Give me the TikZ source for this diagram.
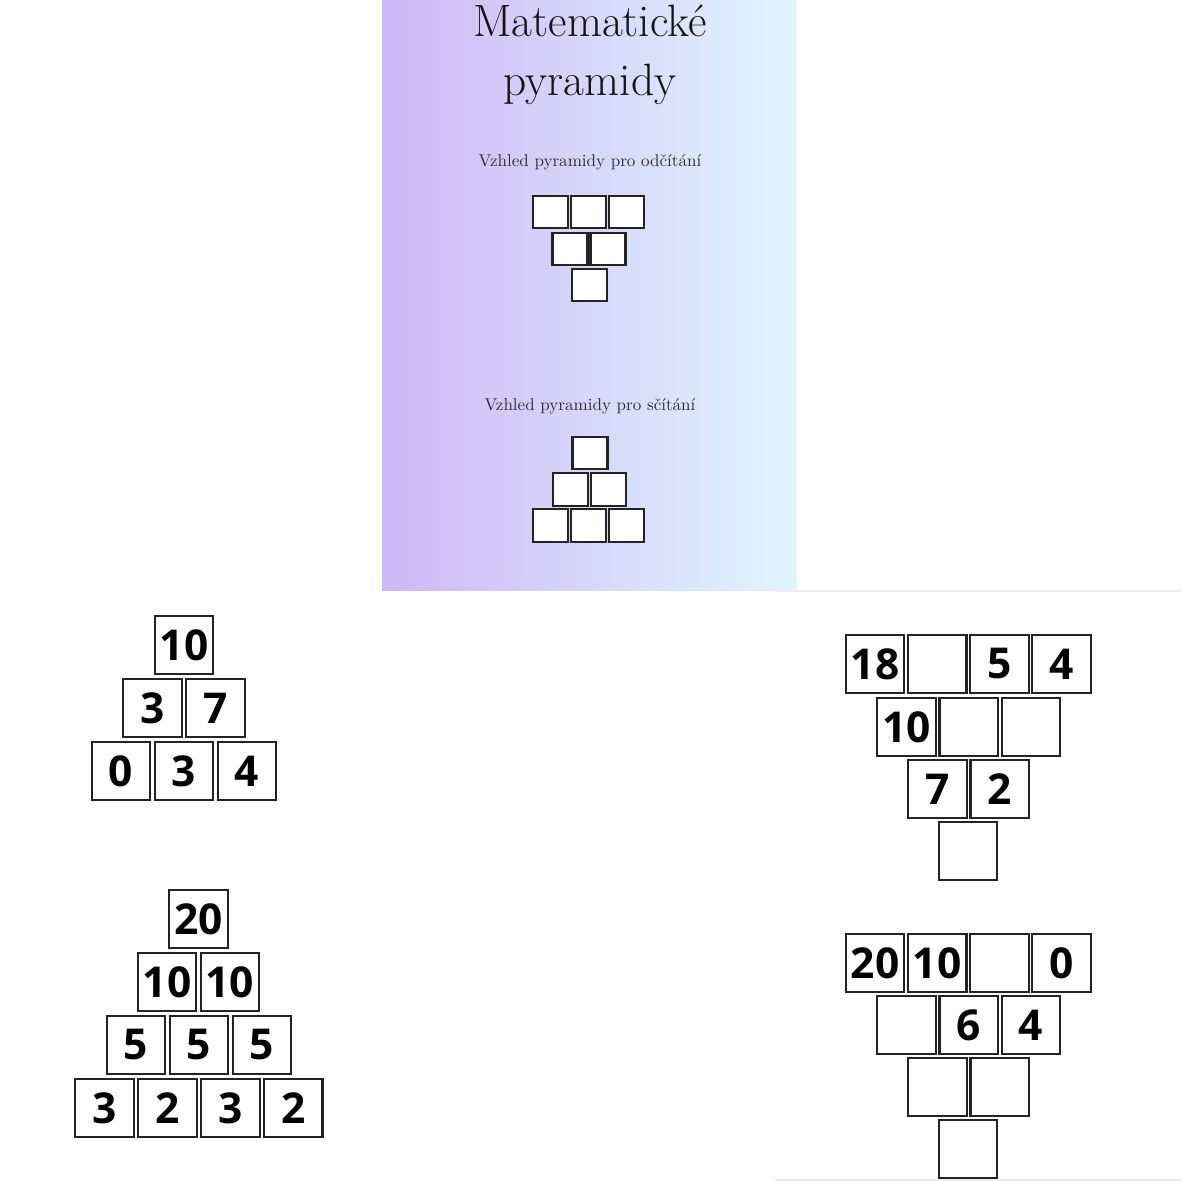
\documentclass[tikz,border=0pt]{standalone}
\usepackage{fontspec}
\usepackage{xcolor}
\usepackage{tikz}
\usetikzlibrary{positioning}
\newfontfamily\numfont{Open Sans}
\definecolor{panelLilac}{RGB}{205,184,246}
\definecolor{panelSky}{RGB}{225,245,253}
\definecolor{boxLine}{RGB}{35,35,35}
\definecolor{sepGray}{RGB}{236,236,236}

\begin{document}
\begin{tikzpicture}[x=0.02cm,y=-0.02cm,
  cell/.style={draw=boxLine,line width=1.25pt,fill=white,minimum size=1.17cm,inner sep=0pt,font=\numfont\bfseries\fontsize{24.2}{25}\selectfont},
  minicell/.style={draw=boxLine,line width=1.3pt,fill=white,minimum width=0.70cm,minimum height=0.65cm,inner sep=0pt},
  title/.style={anchor=base,text=black!92,font=\fontsize{25.8}{28}\selectfont},
  caption/.style={anchor=base,text=black!82,font=\fontsize{9.7}{11}\selectfont},
  node distance=0.03cm
]
\useasboundingbox (0,0) rectangle (1181,1181);

% panel
\shade[left color=panelLilac,right color=panelSky] (382,0) rectangle (797,590);
\node[title] (t1) at (590,36) {Matematické};
\node[title] (t2) at (590,95) {pyramidy};

\node[caption] (c1) at (590,166) {Vzhled pyramidy pro odčítání};
\node[minicell] (s11) at (550.5,212) {};
\node[minicell,right=0.012cm of s11] (s12) {};
\node[minicell,right=0.012cm of s12] (s13) {};
\node[minicell] (s21) at (570,249) {};
\node[minicell,right=0.012cm of s21] (s22) {};
\node[minicell] (s31) at (589.5,285) {};

\node[caption] (c2) at (590,410) {Vzhled pyramidy pro sčítání};
\node[minicell] (p11) at (590,453) {};
\node[minicell] (p21) at (570.5,489.5) {};
\node[minicell,right=0.012cm of p21] (p22) {};
\node[minicell] (p31) at (550.5,525.5) {};
\node[minicell,right=0.012cm of p31] (p32) {};
\node[minicell,right=0.012cm of p32] (p33) {};

% left: addition
\node[cell] (la11) at (184,645) {10};
\node[cell] (la21) at (152.5,708) {3};
\node[cell,right=0.045cm of la21] (la22) {7};
\node[cell] (la31) at (121,771) {0};
\node[cell,right=0.045cm of la31] (la32) {3};
\node[cell,right=0.045cm of la32] (la33) {4};

\node[cell] (lb11) at (198.5,919) {20};
\node[cell] (lb21) at (167,982) {10};
\node[cell,right=0.045cm of lb21] (lb22) {10};
\node[cell] (lb31) at (136,1045) {5};
\node[cell,right=0.045cm of lb31] (lb32) {5};
\node[cell,right=0.045cm of lb32] (lb33) {5};
\node[cell] (lb41) at (104.5,1108) {3};
\node[cell,right=0.045cm of lb41] (lb42) {2};
\node[cell,right=0.045cm of lb42] (lb43) {3};
\node[cell,right=0.045cm of lb43] (lb44) {2};

% right: subtraction
\node[cell] (ra11) at (875,664) {18};
\node[cell,right=of ra11] (ra12) {};
\node[cell,right=of ra12] (ra13) {5};
\node[cell,right=of ra13] (ra14) {4};
\node[cell] (ra21) at (906.5,727) {10};
\node[cell,right=of ra21] (ra22) {};
\node[cell,right=of ra22] (ra23) {};
\node[cell] (ra31) at (937.5,789) {7};
\node[cell,right=of ra31] (ra32) {2};
\node[cell] (ra41) at (968,851) {};

\node[cell] (rb11) at (875,963) {20};
\node[cell,right=of rb11] (rb12) {10};
\node[cell,right=of rb12] (rb13) {};
\node[cell,right=of rb13] (rb14) {0};
\node[cell] (rb21) at (906.5,1025) {};
\node[cell,right=of rb21] (rb22) {6};
\node[cell,right=of rb22] (rb23) {4};
\node[cell] (rb31) at (937.5,1087) {};
\node[cell,right=of rb31] (rb32) {};
\node[cell] (rb41) at (968,1149) {};

\draw[sepGray,line width=0.8pt] (775,591) -- (1181,591);
\draw[sepGray,line width=0.8pt] (775,1180) -- (1181,1180);
\end{tikzpicture}
\end{document}
